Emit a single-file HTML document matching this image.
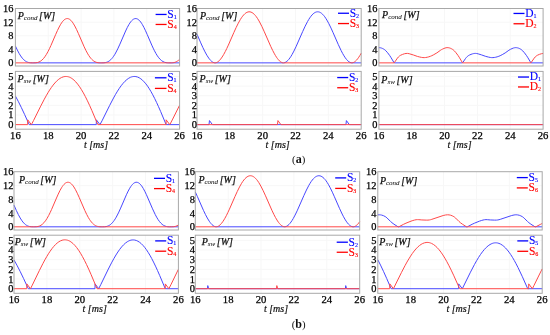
<!DOCTYPE html>
<html><head><meta charset="utf-8"><style>
html,body{margin:0;padding:0;background:#fff;}
body{width:550px;height:335px;overflow:hidden;}
svg{display:block;}
text{font-family:'Liberation Serif', 'Times New Roman', serif;}
.n{font-size:10.4px;fill:#000;stroke:#000;stroke-width:0.25px;}
.ti{font-size:10px;font-style:italic;fill:#111;stroke:#111;stroke-width:0.25px;}
.sub{font-size:7px;stroke-width:0.05px;}
.lg{font-size:11.5px;stroke-width:0.12px;}
.ls{font-size:6px;}
.tl{font-size:10px;font-style:italic;fill:#111;stroke:#111;stroke-width:0.2px;}
.pl{font-size:10.8px;fill:#111;}
</style></head><body>
<svg width="550" height="335" viewBox="0 0 550 335">
<defs><filter id="bl" x="0" y="0" width="100%" height="100%" filterUnits="userSpaceOnUse"><feGaussianBlur stdDeviation="0.35"/></filter></defs>
<rect width="550" height="335" fill="#fff"/>
<g filter="url(#bl)">
<rect width="550" height="335" fill="#fff"/>
<g stroke="#f7f7f7" stroke-width="1"><line x1="48.24" y1="8.5" x2="48.24" y2="66"/><line x1="81.08" y1="8.5" x2="81.08" y2="66"/><line x1="113.92" y1="8.5" x2="113.92" y2="66"/><line x1="146.76" y1="8.5" x2="146.76" y2="66"/><line x1="15.4" y1="49.34" x2="179.6" y2="49.34"/><line x1="15.4" y1="35.81" x2="179.6" y2="35.81"/><line x1="15.4" y1="22.28" x2="179.6" y2="22.28"/></g>
<polyline fill="none" stroke="#4848ff" stroke-width="1.0" stroke-linejoin="round" points="15.4,45.99 17.33,50.07 19.05,53.32 20.7,55.98 22.34,58.19 23.16,59.12 23.98,59.93 24.8,60.62 25.62,61.21 26.48,61.71 27.35,62.1 28.25,62.4 29.23,62.63 30.71,62.81 32.56,62.87 101.73,62.87 103.99,62.8 105.71,62.54 106.78,62.23 107.8,61.81 108.79,61.26 109.77,60.56 110.76,59.7 111.7,58.72 112.65,57.58 113.59,56.28 114.58,54.77 115.6,53.02 117.74,48.9 119.91,44.15 125.62,31 127.34,27.42 128.9,24.57 129.85,23.07 130.79,21.76 131.69,20.7 132.56,19.87 133.42,19.24 134.28,18.82 135.14,18.59 136,18.58 136.74,18.73 137.52,19.06 138.3,19.55 139.08,20.2 139.86,21.01 140.68,22.02 141.51,23.19 142.37,24.57 143.89,27.34 145.53,30.73 147.21,34.5 151.77,45.08 153.16,48.12 154.48,50.8 155.96,53.53 157.39,55.86 158.79,57.79 160.18,59.37 161.58,60.62 162.97,61.55 164.45,62.22 166.05,62.64 167.24,62.79 168.68,62.86 179.6,62.87"/>
<polyline fill="none" stroke="#ff4848" stroke-width="1.0" stroke-linejoin="round" points="15.4,62.87 33.63,62.87 35.84,62.77 37.48,62.5 39,62 40.44,61.23 41.8,60.22 43.36,58.67 44.87,56.75 46.43,54.37 48.03,51.51 49.43,48.73 50.95,45.44 55.75,34.31 57.48,30.46 59.16,27.02 60.72,24.23 61.58,22.89 62.4,21.76 63.22,20.78 64.04,19.98 64.82,19.38 65.6,18.94 66.38,18.66 67.16,18.56 67.86,18.61 68.6,18.82 69.34,19.17 70.08,19.67 70.82,20.32 71.56,21.11 72.34,22.08 73.12,23.19 74.76,25.94 76.52,29.42 78.45,33.65 84.16,46.8 86.05,50.72 87.77,53.88 88.8,55.55 89.78,56.98 90.77,58.24 91.79,59.37 92.82,60.32 93.85,61.1 94.91,61.73 95.98,62.19 96.97,62.49 98.03,62.7 99.18,62.82 100.62,62.87 171.47,62.85 172.74,62.76 173.85,62.59 174.92,62.32 175.91,61.94 176.85,61.46 177.79,60.84 178.7,60.11 179.6,59.25"/>
<rect x="15.4" y="8.5" width="164.2" height="57.5" fill="none" stroke="#a8a8a8" stroke-width="1"/>
<text x="13.4" y="66.27" text-anchor="end" class="n">0</text>
<text x="13.4" y="52.74" text-anchor="end" class="n">4</text>
<text x="13.4" y="39.21" text-anchor="end" class="n">8</text>
<text x="13.4" y="25.68" text-anchor="end" class="n">12</text>
<text x="13.4" y="12.15" text-anchor="end" class="n">16</text>
<text x="17.7" y="18.8" class="ti">P<tspan class="sub" dy="1">cond</tspan><tspan dy="-1" dx="1.6">[W]</tspan></text>
<line x1="155.6" y1="14.45" x2="166.6" y2="14.45" stroke="#0000ff" stroke-width="1.3"/>
<line x1="155.6" y1="24.45" x2="166.6" y2="24.45" stroke="#ff0000" stroke-width="1.3"/>
<text x="167.3" y="17.85" class="lg" fill="#0000ff" stroke="#0000ff">S<tspan class="ls" dy="1.0">1</tspan></text>
<text x="167.3" y="27.85" class="lg" fill="#ff0000" stroke="#ff0000">S<tspan class="ls" dy="1.0">4</tspan></text>
<g stroke="#f7f7f7" stroke-width="1"><line x1="48.24" y1="71.4" x2="48.24" y2="129.2"/><line x1="81.08" y1="71.4" x2="81.08" y2="129.2"/><line x1="113.92" y1="71.4" x2="113.92" y2="129.2"/><line x1="146.76" y1="71.4" x2="146.76" y2="129.2"/><line x1="15.4" y1="115" x2="179.6" y2="115"/><line x1="15.4" y1="105.37" x2="179.6" y2="105.37"/><line x1="15.4" y1="95.73" x2="179.6" y2="95.73"/><line x1="15.4" y1="86.1" x2="179.6" y2="86.1"/><line x1="15.4" y1="76.47" x2="179.6" y2="76.47"/></g>
<polyline fill="none" stroke="#4848ff" stroke-width="1.0" stroke-linejoin="round" points="15.4,96.01 18.23,101.27 21.27,107.38 24.64,114.55 29.19,124.63 96.31,124.63 96.35,119.82 99.96,124.63 102.02,120.83 109.65,105.44 113.55,97.97 115.56,94.38 117.49,91.16 119.34,88.3 121.14,85.76 123.12,83.29 125,81.25 126.89,79.55 128.74,78.23 130.55,77.28 131.45,76.95 132.35,76.7 133.25,76.54 134.16,76.47 135.06,76.49 135.92,76.6 137.56,77.04 139.21,77.79 140.85,78.84 142.49,80.18 144.17,81.86 145.86,83.84 147.58,86.16 149.31,88.77 151.03,91.64 152.79,94.83 154.64,98.43 156.57,102.43 158.54,106.73 160.68,111.6 166.14,124.63 179.6,124.63"/>
<polyline fill="none" stroke="#ff4848" stroke-width="1.0" stroke-linejoin="round" points="15.4,124.63 27.67,124.63 27.71,119.82 31.33,124.63 32.15,123.2 33.5,120.61 40.73,106.1 44.34,99.15 46.19,95.8 47.95,92.77 49.64,90.06 51.28,87.61 53.08,85.14 54.85,83 56.57,81.17 58.26,79.65 59.94,78.42 61.58,77.5 63.22,76.87 64.87,76.53 65.77,76.47 66.67,76.5 67.57,76.62 68.48,76.84 69.38,77.14 70.28,77.54 71.19,78.03 72.13,78.63 73.94,80.07 75.78,81.89 77.67,84.13 79.56,86.71 81.45,89.63 83.38,92.93 85.35,96.6 87.44,100.8 89.58,105.36 91.92,110.62 97.83,124.63 166.09,124.63 166.14,119.82 169.75,124.63 170.69,122.97 172.25,119.96 179.6,105.21"/>
<rect x="15.4" y="71.4" width="164.2" height="57.8" fill="none" stroke="#a8a8a8" stroke-width="1"/>
<text x="13.4" y="128.03" text-anchor="end" class="n">0</text>
<text x="13.4" y="118.4" text-anchor="end" class="n">1</text>
<text x="13.4" y="108.77" text-anchor="end" class="n">2</text>
<text x="13.4" y="99.13" text-anchor="end" class="n">3</text>
<text x="13.4" y="89.5" text-anchor="end" class="n">4</text>
<text x="13.4" y="79.87" text-anchor="end" class="n">5</text>
<text x="17.6" y="81.7" class="ti">P<tspan class="sub" dy="1">sw</tspan><tspan dy="-1" dx="1.6">[W]</tspan></text>
<line x1="154.9" y1="77.8" x2="166.5" y2="77.8" stroke="#0000ff" stroke-width="1.3"/>
<line x1="154.9" y1="88.4" x2="166.5" y2="88.4" stroke="#ff0000" stroke-width="1.3"/>
<text x="167.2" y="81.2" class="lg" fill="#0000ff" stroke="#0000ff">S<tspan class="ls" dy="1.0">1</tspan></text>
<text x="167.2" y="91.8" class="lg" fill="#ff0000" stroke="#ff0000">S<tspan class="ls" dy="1.0">4</tspan></text>
<text x="15.4" y="138.8" text-anchor="middle" class="n" style="font-size:10.7px">16</text>
<text x="48.24" y="138.8" text-anchor="middle" class="n" style="font-size:10.7px">18</text>
<text x="81.08" y="138.8" text-anchor="middle" class="n" style="font-size:10.7px">20</text>
<text x="113.92" y="138.8" text-anchor="middle" class="n" style="font-size:10.7px">22</text>
<text x="146.76" y="138.8" text-anchor="middle" class="n" style="font-size:10.7px">24</text>
<text x="179.6" y="138.8" text-anchor="middle" class="n" style="font-size:10.7px">26</text>
<text x="96" y="147.6" text-anchor="middle" class="tl">t [ms]</text>
<g stroke="#f7f7f7" stroke-width="1"><line x1="229.84" y1="8.5" x2="229.84" y2="66"/><line x1="262.68" y1="8.5" x2="262.68" y2="66"/><line x1="295.52" y1="8.5" x2="295.52" y2="66"/><line x1="328.36" y1="8.5" x2="328.36" y2="66"/><line x1="197" y1="49.34" x2="361.2" y2="49.34"/><line x1="197" y1="35.81" x2="361.2" y2="35.81"/><line x1="197" y1="22.28" x2="361.2" y2="22.28"/></g>
<polyline fill="none" stroke="#4848ff" stroke-width="1.0" stroke-linejoin="round" points="197,34.21 200.78,42.89 202.95,47.69 205,51.87 206.85,55.21 208.74,58.12 209.64,59.3 210.51,60.29 211.37,61.13 212.23,61.81 213.05,62.32 213.87,62.66 214.49,62.82 215.06,62.87 283.45,62.87 284.07,62.81 285.01,62.53 285.96,62.03 286.9,61.34 287.88,60.42 288.91,59.25 289.94,57.89 291,56.29 292.07,54.51 293.92,51.07 295.97,46.81 302.7,31.51 305.17,26.18 307.59,21.49 308.7,19.57 309.81,17.84 310.95,16.25 312.06,14.92 313.17,13.82 314.24,12.97 315.31,12.35 316.37,11.96 317.44,11.8 318.51,11.87 319.49,12.14 320.52,12.63 321.55,13.34 322.57,14.24 323.64,15.39 324.71,16.73 325.81,18.33 326.92,20.12 328.89,23.71 331.03,28.09 333.12,32.72 338.34,44.64 341.13,50.58 342.6,53.41 344,55.83 345.31,57.83 346.59,59.5 347.74,60.75 348.84,61.69 349.95,62.38 351.02,62.77 351.8,62.87 361.2,62.87"/>
<polyline fill="none" stroke="#ff4848" stroke-width="1.0" stroke-linejoin="round" points="197,62.87 215.39,62.85 216.29,62.65 217.24,62.23 218.22,61.57 219.21,60.71 220.64,59.1 222.12,57.05 223.64,54.58 225.28,51.55 226.76,48.56 228.36,45.1 233.9,32.44 236.08,27.65 238.3,23.16 240.35,19.51 241.5,17.72 242.61,16.19 243.71,14.88 244.78,13.82 245.85,12.97 246.88,12.37 247.94,11.97 248.97,11.8 250,11.85 251.02,12.11 252.05,12.59 253.12,13.3 254.18,14.24 255.25,15.39 256.32,16.73 257.43,18.33 258.49,20.05 259.6,22.01 261.94,26.61 264.32,31.79 270.73,46.36 272.7,50.49 274.46,53.85 275.49,55.62 276.51,57.24 277.5,58.62 278.44,59.79 279.39,60.79 280.29,61.57 281.19,62.18 282.1,62.61 282.79,62.8 283.45,62.87 352.21,62.85 353.24,62.59 354.3,62.06 355.37,61.27 356.48,60.2 357.63,58.84 358.78,57.24 359.97,55.35 361.2,53.18"/>
<rect x="197" y="8.5" width="164.2" height="57.5" fill="none" stroke="#a8a8a8" stroke-width="1"/>
<text x="197" y="66.27" text-anchor="end" class="n">0</text>
<text x="197" y="52.74" text-anchor="end" class="n">4</text>
<text x="197" y="39.21" text-anchor="end" class="n">8</text>
<text x="197" y="25.68" text-anchor="end" class="n">12</text>
<text x="197" y="12.15" text-anchor="end" class="n">16</text>
<text x="199.9" y="18.7" class="ti">P<tspan class="sub" dy="1">cond</tspan><tspan dy="-1" dx="1.6">[W]</tspan></text>
<line x1="338" y1="13.25" x2="349" y2="13.25" stroke="#0000ff" stroke-width="1.3"/>
<line x1="338" y1="23.56" x2="349" y2="23.56" stroke="#ff0000" stroke-width="1.3"/>
<text x="349.7" y="16.65" class="lg" fill="#0000ff" stroke="#0000ff">S<tspan class="ls" dy="1.0">2</tspan></text>
<text x="349.7" y="26.96" class="lg" fill="#ff0000" stroke="#ff0000">S<tspan class="ls" dy="1.0">3</tspan></text>
<g stroke="#f7f7f7" stroke-width="1"><line x1="229.84" y1="71.4" x2="229.84" y2="129.2"/><line x1="262.68" y1="71.4" x2="262.68" y2="129.2"/><line x1="295.52" y1="71.4" x2="295.52" y2="129.2"/><line x1="328.36" y1="71.4" x2="328.36" y2="129.2"/><line x1="197" y1="115" x2="361.2" y2="115"/><line x1="197" y1="105.37" x2="361.2" y2="105.37"/><line x1="197" y1="95.73" x2="361.2" y2="95.73"/><line x1="197" y1="86.1" x2="361.2" y2="86.1"/><line x1="197" y1="76.47" x2="361.2" y2="76.47"/></g>
<polyline fill="none" stroke="#4848ff" stroke-width="1.0" stroke-linejoin="round" points="197,124.63 208.99,124.63 209.48,120.59 212.43,124.63 345.93,124.63 346.42,120.59 349.38,124.63 361.2,124.63"/>
<polyline fill="none" stroke="#ff4848" stroke-width="1.0" stroke-linejoin="round" points="197,124.63 277.46,124.63 277.95,120.59 280.91,124.63 361.2,124.63"/>
<rect x="197" y="71.4" width="164.2" height="57.8" fill="none" stroke="#a8a8a8" stroke-width="1"/>
<text x="197" y="128.03" text-anchor="end" class="n">0</text>
<text x="197" y="118.4" text-anchor="end" class="n">1</text>
<text x="197" y="108.77" text-anchor="end" class="n">2</text>
<text x="197" y="99.13" text-anchor="end" class="n">3</text>
<text x="197" y="89.5" text-anchor="end" class="n">4</text>
<text x="197" y="79.87" text-anchor="end" class="n">5</text>
<text x="199.6" y="82.4" class="ti">P<tspan class="sub" dy="1">sw</tspan><tspan dy="-1" dx="1.6">[W]</tspan></text>
<line x1="337.2" y1="77.57" x2="348.2" y2="77.57" stroke="#0000ff" stroke-width="1.3"/>
<line x1="337.2" y1="87.74" x2="348.2" y2="87.74" stroke="#ff0000" stroke-width="1.3"/>
<text x="348.9" y="80.97" class="lg" fill="#0000ff" stroke="#0000ff">S<tspan class="ls" dy="1.0">2</tspan></text>
<text x="348.9" y="91.14" class="lg" fill="#ff0000" stroke="#ff0000">S<tspan class="ls" dy="1.0">3</tspan></text>
<text x="197" y="138.8" text-anchor="middle" class="n" style="font-size:10.7px">16</text>
<text x="229.84" y="138.8" text-anchor="middle" class="n" style="font-size:10.7px">18</text>
<text x="262.68" y="138.8" text-anchor="middle" class="n" style="font-size:10.7px">20</text>
<text x="295.52" y="138.8" text-anchor="middle" class="n" style="font-size:10.7px">22</text>
<text x="328.36" y="138.8" text-anchor="middle" class="n" style="font-size:10.7px">24</text>
<text x="361.2" y="138.8" text-anchor="middle" class="n" style="font-size:10.7px">26</text>
<text x="277.6" y="147.6" text-anchor="middle" class="tl">t [ms]</text>
<g stroke="#f7f7f7" stroke-width="1"><line x1="411.74" y1="8.5" x2="411.74" y2="66"/><line x1="444.58" y1="8.5" x2="444.58" y2="66"/><line x1="477.42" y1="8.5" x2="477.42" y2="66"/><line x1="510.26" y1="8.5" x2="510.26" y2="66"/><line x1="378.9" y1="49.34" x2="543.1" y2="49.34"/><line x1="378.9" y1="35.81" x2="543.1" y2="35.81"/><line x1="378.9" y1="22.28" x2="543.1" y2="22.28"/></g>
<polyline fill="none" stroke="#4848ff" stroke-width="1.0" stroke-linejoin="round" points="378.9,47.64 379.8,47.7 380.71,47.85 381.61,48.1 382.51,48.45 383.46,48.94 384.4,49.54 385.14,50.1 385.92,50.83 387.64,52.78 389.82,55.71 391.17,57.82 394.17,62.87 462.56,62.87 465.64,58.37 466.5,57.3 467.32,56.47 468.31,55.7 469.37,55.08 471.02,54.37 472.58,53.84 473.68,53.57 474.75,53.42 475.7,53.4 476.68,53.51 478.2,53.86 481.48,54.89 485.75,56.4 488.67,57.14 490.27,57.45 491.66,57.61 492.9,57.62 494.29,57.48 495.69,57.22 497.17,56.83 498.85,56.26 500.16,55.71 502.26,54.64 505.17,52.93 508.86,50.28 510.3,49.4 512.03,48.59 513.38,48.06 514.61,47.75 515.72,47.64 516.62,47.7 517.53,47.86 518.43,48.11 519.33,48.47 520.28,48.96 521.18,49.54 521.92,50.1 522.7,50.83 524.42,52.78 526.6,55.71 527.95,57.82 530.95,62.87 543.1,62.87"/>
<polyline fill="none" stroke="#ff4848" stroke-width="1.0" stroke-linejoin="round" points="378.9,62.87 394.17,62.87 397.41,58.15 398.36,57.03 399.34,56.12 400.7,55.23 402.38,54.47 404.35,53.79 406.03,53.46 407.59,53.42 409.28,53.72 413.34,54.97 417.4,56.42 419.79,57.02 421.47,57.38 422.91,57.58 424.22,57.63 425.7,57.51 427.22,57.24 428.78,56.83 430.5,56.24 431.81,55.69 433.25,54.97 436.86,52.88 440.72,50.12 441.62,49.56 442.57,49.08 443.92,48.46 445.03,48.05 446.06,47.78 447,47.65 447.91,47.67 448.85,47.8 449.79,48.03 450.7,48.36 451.64,48.82 452.58,49.4 453.41,50 454.19,50.7 455.95,52.68 458.17,55.65 459.56,57.82 462.56,62.87 530.95,62.87 534.23,58.1 535.22,56.94 536.2,56.06 537.6,55.16 539.49,54.34 541.42,53.72 543.1,53.43"/>
<rect x="378.9" y="8.5" width="164.2" height="57.5" fill="none" stroke="#a8a8a8" stroke-width="1"/>
<text x="377.4" y="66.27" text-anchor="end" class="n">0</text>
<text x="377.4" y="52.74" text-anchor="end" class="n">4</text>
<text x="377.4" y="39.21" text-anchor="end" class="n">8</text>
<text x="377.4" y="25.68" text-anchor="end" class="n">12</text>
<text x="377.4" y="12.15" text-anchor="end" class="n">16</text>
<text x="382.1" y="18.4" class="ti">P<tspan class="sub" dy="1">cond</tspan><tspan dy="-1" dx="1.6">[W]</tspan></text>
<line x1="513.5" y1="13.45" x2="524.5" y2="13.45" stroke="#0000ff" stroke-width="1.3"/>
<line x1="513.5" y1="23.76" x2="524.5" y2="23.76" stroke="#ff0000" stroke-width="1.3"/>
<text x="525.2" y="16.85" class="lg" fill="#0000ff" stroke="#0000ff">D<tspan class="ls" dy="1.0">1</tspan></text>
<text x="525.2" y="27.16" class="lg" fill="#ff0000" stroke="#ff0000">D<tspan class="ls" dy="1.0">2</tspan></text>
<g stroke="#f7f7f7" stroke-width="1"><line x1="411.74" y1="71.4" x2="411.74" y2="129.2"/><line x1="444.58" y1="71.4" x2="444.58" y2="129.2"/><line x1="477.42" y1="71.4" x2="477.42" y2="129.2"/><line x1="510.26" y1="71.4" x2="510.26" y2="129.2"/><line x1="378.9" y1="115" x2="543.1" y2="115"/><line x1="378.9" y1="105.37" x2="543.1" y2="105.37"/><line x1="378.9" y1="95.73" x2="543.1" y2="95.73"/><line x1="378.9" y1="86.1" x2="543.1" y2="86.1"/><line x1="378.9" y1="76.47" x2="543.1" y2="76.47"/></g>
<polyline fill="none" stroke="#4848ff" stroke-width="1.0" stroke-linejoin="round" points="378.9,124.63 543.1,124.63"/>
<polyline fill="none" stroke="#ff4848" stroke-width="1.0" stroke-linejoin="round" points="378.9,124.63 543.1,124.63"/>
<rect x="378.9" y="71.4" width="164.2" height="57.8" fill="none" stroke="#a8a8a8" stroke-width="1"/>
<text x="377.4" y="128.03" text-anchor="end" class="n">0</text>
<text x="377.4" y="118.4" text-anchor="end" class="n">1</text>
<text x="377.4" y="108.77" text-anchor="end" class="n">2</text>
<text x="377.4" y="99.13" text-anchor="end" class="n">3</text>
<text x="377.4" y="89.5" text-anchor="end" class="n">4</text>
<text x="377.4" y="79.87" text-anchor="end" class="n">5</text>
<text x="381.3" y="82.8" class="ti">P<tspan class="sub" dy="1">sw</tspan><tspan dy="-1" dx="1.6">[W]</tspan></text>
<line x1="518" y1="77.04" x2="529" y2="77.04" stroke="#0000ff" stroke-width="1.3"/>
<line x1="518" y1="86.96" x2="529" y2="86.96" stroke="#ff0000" stroke-width="1.3"/>
<text x="529.7" y="80.44" class="lg" fill="#0000ff" stroke="#0000ff">D<tspan class="ls" dy="1.0">1</tspan></text>
<text x="529.7" y="90.36" class="lg" fill="#ff0000" stroke="#ff0000">D<tspan class="ls" dy="1.0">2</tspan></text>
<text x="378.9" y="138.8" text-anchor="middle" class="n" style="font-size:10.7px">16</text>
<text x="411.74" y="138.8" text-anchor="middle" class="n" style="font-size:10.7px">18</text>
<text x="444.58" y="138.8" text-anchor="middle" class="n" style="font-size:10.7px">20</text>
<text x="477.42" y="138.8" text-anchor="middle" class="n" style="font-size:10.7px">22</text>
<text x="510.26" y="138.8" text-anchor="middle" class="n" style="font-size:10.7px">24</text>
<text x="543.1" y="138.8" text-anchor="middle" class="n" style="font-size:10.7px">26</text>
<text x="459.5" y="147.6" text-anchor="middle" class="tl">t [ms]</text>
<text x="298.7" y="163.4" text-anchor="middle" class="pl">(<tspan font-weight="bold" font-size="12px">a</tspan>)</text>
<g stroke="#f7f7f7" stroke-width="1"><line x1="46.88" y1="171.7" x2="46.88" y2="230"/><line x1="79.76" y1="171.7" x2="79.76" y2="230"/><line x1="112.64" y1="171.7" x2="112.64" y2="230"/><line x1="145.52" y1="171.7" x2="145.52" y2="230"/><line x1="14" y1="213.1" x2="178.4" y2="213.1"/><line x1="14" y1="199.39" x2="178.4" y2="199.39"/><line x1="14" y1="185.67" x2="178.4" y2="185.67"/></g>
<polyline fill="none" stroke="#4848ff" stroke-width="1.0" stroke-linejoin="round" points="14,205.13 16.38,210.57 18.36,214.68 20.21,218.06 21.97,220.78 22.88,221.97 23.74,222.96 24.64,223.86 25.55,224.63 26.45,225.25 27.4,225.77 28.38,226.18 29.41,226.48 31.14,226.75 33.4,226.82 102.69,226.82 104.58,226.76 106.06,226.58 107.21,226.29 108.28,225.89 109.31,225.35 110.34,224.66 111.32,223.83 112.31,222.83 113.26,221.71 114.24,220.38 115.23,218.87 116.26,217.14 118.44,212.93 120.65,208.08 126.41,194.75 128.18,191.07 129.74,188.22 130.68,186.71 131.63,185.4 132.53,184.34 133.4,183.53 134.3,182.88 135.16,182.47 136.03,182.26 136.89,182.27 137.63,182.44 138.41,182.78 139.19,183.3 139.97,183.97 140.75,184.8 141.57,185.84 142.4,187.02 143.26,188.43 144.78,191.23 146.42,194.66 152.55,208.83 155.18,214.43 156.62,217.14 158.01,219.46 159.37,221.39 160.73,223.01 162.12,224.33 163.52,225.33 164.96,226.04 166.52,226.52 167.8,226.72 169.28,226.81 178.4,226.82"/>
<polyline fill="none" stroke="#ff4848" stroke-width="1.0" stroke-linejoin="round" points="14,226.82 34.26,226.82 36.36,226.74 38.04,226.48 39.52,226.01 40.92,225.3 42.28,224.33 43.88,222.78 45.44,220.84 47,218.47 48.65,215.55 50.04,212.76 51.61,209.38 56.5,197.99 58.22,194.13 59.95,190.59 61.51,187.81 62.37,186.47 63.2,185.35 64.02,184.39 64.8,183.63 65.58,183.03 66.36,182.6 67.14,182.33 67.92,182.24 68.62,182.3 69.36,182.51 70.1,182.88 70.84,183.39 71.58,184.05 72.32,184.85 73.1,185.84 73.88,186.96 75.53,189.74 77.29,193.25 79.18,197.42 84.86,210.57 86.71,214.43 88.43,217.64 89.46,219.33 90.45,220.78 91.47,222.12 92.46,223.22 93.45,224.16 94.47,224.96 95.5,225.59 96.57,226.08 97.6,226.41 98.71,226.64 99.9,226.77 101.34,226.82 171.7,226.82 173.71,226.7 175.4,226.38 176.96,225.79 178.4,224.96"/>
<rect x="14" y="171.7" width="164.4" height="58.3" fill="none" stroke="#a8a8a8" stroke-width="1"/>
<text x="13.4" y="230.32" text-anchor="end" class="n">0</text>
<text x="13.4" y="216.6" text-anchor="end" class="n">4</text>
<text x="13.4" y="202.89" text-anchor="end" class="n">8</text>
<text x="13.4" y="189.17" text-anchor="end" class="n">12</text>
<text x="13.4" y="175.45" text-anchor="end" class="n">16</text>
<text x="19" y="182.8" class="ti">P<tspan class="sub" dy="1">cond</tspan><tspan dy="-1" dx="1.6">[W]</tspan></text>
<line x1="154" y1="178.35" x2="165" y2="178.35" stroke="#0000ff" stroke-width="1.3"/>
<line x1="154" y1="188.6" x2="165" y2="188.6" stroke="#ff0000" stroke-width="1.3"/>
<text x="165.7" y="181.75" class="lg" fill="#0000ff" stroke="#0000ff">S<tspan class="ls" dy="1.0">1</tspan></text>
<text x="165.7" y="192" class="lg" fill="#ff0000" stroke="#ff0000">S<tspan class="ls" dy="1.0">4</tspan></text>
<g stroke="#f7f7f7" stroke-width="1"><line x1="46.88" y1="235.2" x2="46.88" y2="293.3"/><line x1="79.76" y1="235.2" x2="79.76" y2="293.3"/><line x1="112.64" y1="235.2" x2="112.64" y2="293.3"/><line x1="145.52" y1="235.2" x2="145.52" y2="293.3"/><line x1="14" y1="279.02" x2="178.4" y2="279.02"/><line x1="14" y1="269.34" x2="178.4" y2="269.34"/><line x1="14" y1="259.66" x2="178.4" y2="259.66"/><line x1="14" y1="249.97" x2="178.4" y2="249.97"/><line x1="14" y1="240.29" x2="178.4" y2="240.29"/></g>
<polyline fill="none" stroke="#4848ff" stroke-width="1.0" stroke-linejoin="round" points="14,259.97 16.92,265.17 20.08,271.31 23.58,278.54 28.3,288.71 95.01,288.71 95.05,283.87 98.67,288.71 100.89,284.4 108.37,269 111.9,262.13 114,258.32 115.97,254.97 117.86,252.01 119.67,249.43 121.64,246.92 123.57,244.81 125.46,243.08 127.31,241.74 128.26,241.19 129.16,240.75 130.11,240.39 131.01,240.14 131.92,239.98 132.82,239.91 133.72,239.93 134.63,240.04 136.27,240.48 137.92,241.22 139.56,242.27 141.25,243.64 142.93,245.32 144.66,247.34 146.38,249.66 148.15,252.33 149.88,255.2 151.69,258.47 153.53,262.06 155.51,266.14 157.52,270.53 159.7,275.49 165.25,288.71 178.4,288.71"/>
<polyline fill="none" stroke="#ff4848" stroke-width="1.0" stroke-linejoin="round" points="14,288.71 26.78,288.71 26.82,283.87 30.44,288.71 32.29,285.14 39.32,270.63 43.02,263.32 44.91,259.8 46.72,256.62 48.44,253.78 50.13,251.21 51.94,248.69 53.7,246.5 55.43,244.64 57.16,243.06 58.84,241.8 60.53,240.85 62.17,240.21 63.81,239.87 64.72,239.81 65.62,239.84 66.53,239.97 67.43,240.18 68.33,240.49 69.24,240.89 70.14,241.39 71.09,242 72.94,243.48 74.79,245.32 76.68,247.58 78.61,250.24 80.5,253.19 82.43,256.52 84.45,260.3 86.54,264.53 88.68,269.13 91.02,274.42 97.02,288.71 165.25,288.71 165.29,283.92 168.86,288.71 171.08,284.39 178.4,269.29"/>
<rect x="14" y="235.2" width="164.4" height="58.1" fill="none" stroke="#a8a8a8" stroke-width="1"/>
<text x="13.4" y="292.21" text-anchor="end" class="n">0</text>
<text x="13.4" y="282.52" text-anchor="end" class="n">1</text>
<text x="13.4" y="272.84" text-anchor="end" class="n">2</text>
<text x="13.4" y="263.16" text-anchor="end" class="n">3</text>
<text x="13.4" y="253.47" text-anchor="end" class="n">4</text>
<text x="13.4" y="243.79" text-anchor="end" class="n">5</text>
<text x="14.7" y="245.4" class="ti">P<tspan class="sub" dy="1">sw</tspan><tspan dy="-1" dx="1.6">[W]</tspan></text>
<line x1="155.2" y1="240.9" x2="166.2" y2="240.9" stroke="#0000ff" stroke-width="1.3"/>
<line x1="155.2" y1="251.2" x2="166.2" y2="251.2" stroke="#ff0000" stroke-width="1.3"/>
<text x="166.9" y="244.3" class="lg" fill="#0000ff" stroke="#0000ff">S<tspan class="ls" dy="1.0">1</tspan></text>
<text x="166.9" y="254.6" class="lg" fill="#ff0000" stroke="#ff0000">S<tspan class="ls" dy="1.0">4</tspan></text>
<text x="14" y="302.8" text-anchor="middle" class="n" style="font-size:10.7px">16</text>
<text x="46.88" y="302.8" text-anchor="middle" class="n" style="font-size:10.7px">18</text>
<text x="79.76" y="302.8" text-anchor="middle" class="n" style="font-size:10.7px">20</text>
<text x="112.64" y="302.8" text-anchor="middle" class="n" style="font-size:10.7px">22</text>
<text x="145.52" y="302.8" text-anchor="middle" class="n" style="font-size:10.7px">24</text>
<text x="178.4" y="302.8" text-anchor="middle" class="n" style="font-size:10.7px">26</text>
<text x="94.7" y="312.4" text-anchor="middle" class="tl">t [ms]</text>
<g stroke="#f7f7f7" stroke-width="1"><line x1="228.18" y1="171.7" x2="228.18" y2="230"/><line x1="261.06" y1="171.7" x2="261.06" y2="230"/><line x1="293.94" y1="171.7" x2="293.94" y2="230"/><line x1="326.82" y1="171.7" x2="326.82" y2="230"/><line x1="195.3" y1="213.1" x2="359.7" y2="213.1"/><line x1="195.3" y1="199.39" x2="359.7" y2="199.39"/><line x1="195.3" y1="185.67" x2="359.7" y2="185.67"/></g>
<polyline fill="none" stroke="#4848ff" stroke-width="1.0" stroke-linejoin="round" points="195.3,191.94 197.27,196.28 203.48,210.4 205.49,214.6 207.3,218.02 209.27,221.25 210.22,222.57 211.16,223.74 212.07,224.7 212.97,225.49 213.88,226.11 214.74,226.53 215.48,226.75 216.18,226.82 285.06,226.79 286.01,226.56 286.95,226.11 287.94,225.43 288.97,224.49 289.99,223.35 291.02,222.02 292.09,220.43 293.2,218.6 295.09,215.09 297.15,210.84 303.93,195.45 306.43,190.04 308.9,185.27 310.05,183.3 311.16,181.59 312.31,180.02 313.42,178.72 314.53,177.64 315.64,176.79 316.71,176.21 317.78,175.85 318.85,175.72 319.92,175.83 320.9,176.14 321.93,176.66 322.96,177.4 323.98,178.33 325.01,179.46 326.08,180.83 327.19,182.46 328.3,184.27 330.23,187.81 332.37,192.2 334.42,196.75 339.48,208.31 342.15,214.03 343.55,216.75 344.86,219.09 346.14,221.13 347.37,222.84 348.56,224.24 349.71,225.33 350.82,226.11 351.93,226.62 353.04,226.82 359.7,226.82"/>
<polyline fill="none" stroke="#ff4848" stroke-width="1.0" stroke-linejoin="round" points="195.3,226.82 216.43,226.81 217.33,226.63 218.23,226.25 219.14,225.68 220.08,224.89 221.56,223.3 223.08,221.25 224.65,218.74 226.33,215.66 227.81,212.67 229.45,209.13 235.04,196.38 237.26,191.5 239.52,186.94 241.58,183.3 242.73,181.53 243.84,180.02 244.95,178.72 246.02,177.67 247.09,176.85 248.15,176.24 249.22,175.87 250.25,175.73 251.28,175.8 252.31,176.09 253.33,176.59 254.4,177.33 255.43,178.25 256.5,179.41 257.61,180.83 258.72,182.46 260.85,186.09 263.2,190.72 265.54,195.82 271.87,210.22 273.8,214.28 275.53,217.58 277.54,220.94 278.53,222.35 279.47,223.55 280.38,224.54 281.28,225.36 282.19,226.01 283.05,226.46 283.87,226.73 284.65,226.82 353.33,226.81 354.07,226.69 354.85,226.41 355.63,225.98 356.41,225.43 357.19,224.74 358.01,223.88 359.7,221.73"/>
<rect x="195.3" y="171.7" width="164.4" height="58.3" fill="none" stroke="#a8a8a8" stroke-width="1"/>
<text x="195" y="230.32" text-anchor="end" class="n">0</text>
<text x="195" y="216.6" text-anchor="end" class="n">4</text>
<text x="195" y="202.89" text-anchor="end" class="n">8</text>
<text x="195" y="189.17" text-anchor="end" class="n">12</text>
<text x="195" y="175.45" text-anchor="end" class="n">16</text>
<text x="198.4" y="182.8" class="ti">P<tspan class="sub" dy="1">cond</tspan><tspan dy="-1" dx="1.6">[W]</tspan></text>
<line x1="335.2" y1="177.9" x2="346.2" y2="177.9" stroke="#0000ff" stroke-width="1.3"/>
<line x1="335.2" y1="188.4" x2="346.2" y2="188.4" stroke="#ff0000" stroke-width="1.3"/>
<text x="346.9" y="181.3" class="lg" fill="#0000ff" stroke="#0000ff">S<tspan class="ls" dy="1.0">2</tspan></text>
<text x="346.9" y="191.8" class="lg" fill="#ff0000" stroke="#ff0000">S<tspan class="ls" dy="1.0">3</tspan></text>
<g stroke="#f7f7f7" stroke-width="1"><line x1="228.18" y1="235.2" x2="228.18" y2="293.3"/><line x1="261.06" y1="235.2" x2="261.06" y2="293.3"/><line x1="293.94" y1="235.2" x2="293.94" y2="293.3"/><line x1="326.82" y1="235.2" x2="326.82" y2="293.3"/><line x1="195.3" y1="279.02" x2="359.7" y2="279.02"/><line x1="195.3" y1="269.34" x2="359.7" y2="269.34"/><line x1="195.3" y1="259.66" x2="359.7" y2="259.66"/><line x1="195.3" y1="249.97" x2="359.7" y2="249.97"/><line x1="195.3" y1="240.29" x2="359.7" y2="240.29"/></g>
<polyline fill="none" stroke="#4848ff" stroke-width="1.0" stroke-linejoin="round" points="195.3,288.71 207.47,288.71 207.79,285.61 208.62,288.71 345.4,288.71 345.73,285.61 346.55,288.71 359.7,288.71"/>
<polyline fill="none" stroke="#ff4848" stroke-width="1.0" stroke-linejoin="round" points="195.3,288.71 276.51,288.71 276.84,285.61 277.66,288.71 359.7,288.71"/>
<rect x="195.3" y="235.2" width="164.4" height="58.1" fill="none" stroke="#a8a8a8" stroke-width="1"/>
<text x="195" y="292.21" text-anchor="end" class="n">0</text>
<text x="195" y="282.52" text-anchor="end" class="n">1</text>
<text x="195" y="272.84" text-anchor="end" class="n">2</text>
<text x="195" y="263.16" text-anchor="end" class="n">3</text>
<text x="195" y="253.47" text-anchor="end" class="n">4</text>
<text x="195" y="243.79" text-anchor="end" class="n">5</text>
<text x="201.7" y="245.4" class="ti">P<tspan class="sub" dy="1">sw</tspan><tspan dy="-1" dx="1.6">[W]</tspan></text>
<line x1="336.7" y1="242.2" x2="347.9" y2="242.2" stroke="#0000ff" stroke-width="1.3"/>
<line x1="336.7" y1="252.25" x2="347.9" y2="252.25" stroke="#ff0000" stroke-width="1.3"/>
<text x="348.6" y="245.6" class="lg" fill="#0000ff" stroke="#0000ff">S<tspan class="ls" dy="1.0">2</tspan></text>
<text x="348.6" y="255.65" class="lg" fill="#ff0000" stroke="#ff0000">S<tspan class="ls" dy="1.0">3</tspan></text>
<text x="195.3" y="302.8" text-anchor="middle" class="n" style="font-size:10.7px">16</text>
<text x="228.18" y="302.8" text-anchor="middle" class="n" style="font-size:10.7px">18</text>
<text x="261.06" y="302.8" text-anchor="middle" class="n" style="font-size:10.7px">20</text>
<text x="293.94" y="302.8" text-anchor="middle" class="n" style="font-size:10.7px">22</text>
<text x="326.82" y="302.8" text-anchor="middle" class="n" style="font-size:10.7px">24</text>
<text x="359.7" y="302.8" text-anchor="middle" class="n" style="font-size:10.7px">26</text>
<text x="276" y="312.4" text-anchor="middle" class="tl">t [ms]</text>
<g stroke="#f7f7f7" stroke-width="1"><line x1="410.68" y1="171.7" x2="410.68" y2="230"/><line x1="443.56" y1="171.7" x2="443.56" y2="230"/><line x1="476.44" y1="171.7" x2="476.44" y2="230"/><line x1="509.32" y1="171.7" x2="509.32" y2="230"/><line x1="377.8" y1="213.1" x2="542.2" y2="213.1"/><line x1="377.8" y1="199.39" x2="542.2" y2="199.39"/><line x1="377.8" y1="185.67" x2="542.2" y2="185.67"/></g>
<polyline fill="none" stroke="#4848ff" stroke-width="1.0" stroke-linejoin="round" points="377.8,214.88 379.65,214.8 380.55,214.88 381.5,215.05 383.35,215.63 385.2,216.55 386.1,217.17 387.09,218 390.58,221.5 391.94,222.71 393.95,224.18 398.02,226.82 467.32,226.82 472.12,224.28 474.43,223.19 479.48,221.16 481.33,220.53 483.02,220.06 484.62,219.73 485.98,219.63 487.29,219.68 490.29,219.94 494.69,220.11 496.41,220.1 497.85,219.95 499,219.71 500.28,219.34 511.74,215.51 514.09,214.97 515.2,214.83 516.14,214.79 517.7,214.91 519.27,215.27 520.83,215.86 522.35,216.68 523.17,217.27 524.12,218.08 527.49,221.46 528.84,222.68 530.9,224.18 534.97,226.82 542.2,226.82"/>
<polyline fill="none" stroke="#ff4848" stroke-width="1.0" stroke-linejoin="round" points="377.8,226.82 398.84,226.82 403.65,224.28 405.95,223.19 411.01,221.16 412.86,220.53 414.5,220.07 416.11,219.73 417.5,219.63 418.82,219.68 421.82,219.94 426.22,220.11 427.94,220.1 429.38,219.95 430.53,219.71 431.81,219.34 443.19,215.53 445.49,214.99 447.46,214.79 449.07,214.88 450.67,215.23 452.27,215.83 453.88,216.68 454.7,217.27 455.64,218.08 459.01,221.46 460.37,222.68 462.42,224.18 466.49,226.82 535.79,226.82 540.27,224.45 542.2,223.5"/>
<rect x="377.8" y="171.7" width="164.4" height="58.3" fill="none" stroke="#a8a8a8" stroke-width="1"/>
<text x="376.4" y="230.32" text-anchor="end" class="n">0</text>
<text x="376.4" y="216.6" text-anchor="end" class="n">4</text>
<text x="376.4" y="202.89" text-anchor="end" class="n">8</text>
<text x="376.4" y="189.17" text-anchor="end" class="n">12</text>
<text x="376.4" y="175.45" text-anchor="end" class="n">16</text>
<text x="379.9" y="183.9" class="ti">P<tspan class="sub" dy="1">cond</tspan><tspan dy="-1" dx="1.6">[W]</tspan></text>
<line x1="516.8" y1="177.6" x2="527.8" y2="177.6" stroke="#0000ff" stroke-width="1.3"/>
<line x1="516.8" y1="187.9" x2="527.8" y2="187.9" stroke="#ff0000" stroke-width="1.3"/>
<text x="528.5" y="181" class="lg" fill="#0000ff" stroke="#0000ff">S<tspan class="ls" dy="1.0">5</tspan></text>
<text x="528.5" y="191.3" class="lg" fill="#ff0000" stroke="#ff0000">S<tspan class="ls" dy="1.0">6</tspan></text>
<g stroke="#f7f7f7" stroke-width="1"><line x1="410.68" y1="235.2" x2="410.68" y2="293.3"/><line x1="443.56" y1="235.2" x2="443.56" y2="293.3"/><line x1="476.44" y1="235.2" x2="476.44" y2="293.3"/><line x1="509.32" y1="235.2" x2="509.32" y2="293.3"/><line x1="377.8" y1="279.02" x2="542.2" y2="279.02"/><line x1="377.8" y1="269.34" x2="542.2" y2="269.34"/><line x1="377.8" y1="259.66" x2="542.2" y2="259.66"/><line x1="377.8" y1="249.97" x2="542.2" y2="249.97"/><line x1="377.8" y1="240.29" x2="542.2" y2="240.29"/></g>
<polyline fill="none" stroke="#4848ff" stroke-width="1.0" stroke-linejoin="round" points="377.8,259.74 380.51,265.07 383.47,271.32 386.72,278.56 391.12,288.71 458.64,288.71 458.68,283.87 462.3,288.71 470.48,272.16 474.51,264.43 476.6,260.71 478.62,257.37 480.55,254.43 482.4,251.88 484.37,249.46 486.26,247.47 488.15,245.81 490,244.53 491.85,243.6 492.76,243.27 493.66,243.03 494.61,242.87 495.51,242.81 496.41,242.84 497.32,242.95 498.96,243.39 500.61,244.11 502.25,245.13 503.89,246.42 505.58,248.03 507.26,249.92 508.99,252.12 510.72,254.59 512.44,257.31 514.25,260.41 516.1,263.8 518.03,267.57 522.18,276.29 527.73,288.71 542.2,288.71"/>
<polyline fill="none" stroke="#ff4848" stroke-width="1.0" stroke-linejoin="round" points="377.8,288.71 389.76,288.71 389.8,283.87 393.42,288.71 401.39,272.63 405.01,265.65 406.98,262.07 408.83,258.91 410.6,256.08 412.32,253.53 414.17,251.04 415.94,248.93 417.67,247.13 419.39,245.61 421.08,244.4 422.76,243.47 424.45,242.83 426.09,242.49 427.04,242.42 427.94,242.45 428.85,242.56 429.75,242.76 430.65,243.05 431.56,243.42 433.41,244.45 435.26,245.83 437.15,247.59 439.04,249.7 440.97,252.19 442.86,254.94 444.83,258.12 446.89,261.73 449.03,265.77 451.2,270.14 453.59,275.18 459.67,288.71 528.68,288.71 528.72,283.87 532.34,288.71 533.98,285.48 539.61,274.02 542.2,268.92"/>
<rect x="377.8" y="235.2" width="164.4" height="58.1" fill="none" stroke="#a8a8a8" stroke-width="1"/>
<text x="376.4" y="292.21" text-anchor="end" class="n">0</text>
<text x="376.4" y="282.52" text-anchor="end" class="n">1</text>
<text x="376.4" y="272.84" text-anchor="end" class="n">2</text>
<text x="376.4" y="263.16" text-anchor="end" class="n">3</text>
<text x="376.4" y="253.47" text-anchor="end" class="n">4</text>
<text x="376.4" y="243.79" text-anchor="end" class="n">5</text>
<text x="379.3" y="244.6" class="ti">P<tspan class="sub" dy="1">sw</tspan><tspan dy="-1" dx="1.6">[W]</tspan></text>
<line x1="517.3" y1="240.9" x2="528.2" y2="240.9" stroke="#0000ff" stroke-width="1.3"/>
<line x1="517.3" y1="251.3" x2="528.2" y2="251.3" stroke="#ff0000" stroke-width="1.3"/>
<text x="528.9" y="244.3" class="lg" fill="#0000ff" stroke="#0000ff">S<tspan class="ls" dy="1.0">5</tspan></text>
<text x="528.9" y="254.7" class="lg" fill="#ff0000" stroke="#ff0000">S<tspan class="ls" dy="1.0">6</tspan></text>
<text x="377.8" y="302.8" text-anchor="middle" class="n" style="font-size:10.7px">16</text>
<text x="410.68" y="302.8" text-anchor="middle" class="n" style="font-size:10.7px">18</text>
<text x="443.56" y="302.8" text-anchor="middle" class="n" style="font-size:10.7px">20</text>
<text x="476.44" y="302.8" text-anchor="middle" class="n" style="font-size:10.7px">22</text>
<text x="509.32" y="302.8" text-anchor="middle" class="n" style="font-size:10.7px">24</text>
<text x="542.2" y="302.8" text-anchor="middle" class="n" style="font-size:10.7px">26</text>
<text x="458.5" y="312.4" text-anchor="middle" class="tl">t [ms]</text>
<text x="298.7" y="327.6" text-anchor="middle" class="pl">(<tspan font-weight="bold" font-size="12px">b</tspan>)</text>
</g>
</svg>
</body></html>
